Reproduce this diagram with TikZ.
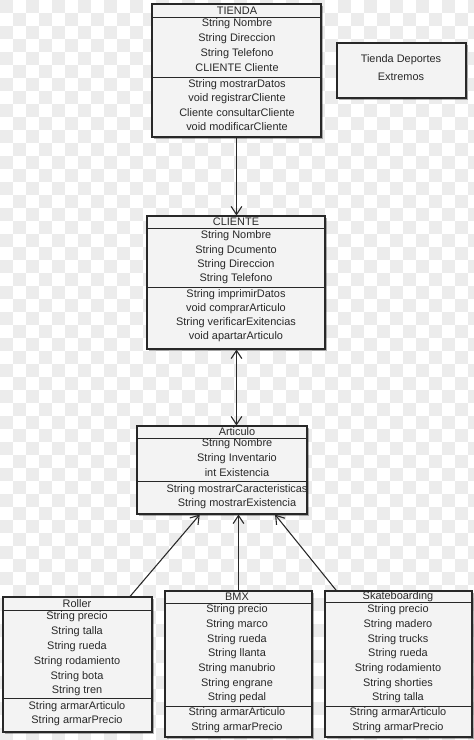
\documentclass[tikz,border=0pt]{standalone}
\usepackage{fontspec}
\setmainfont{Liberation Sans}
\usetikzlibrary{arrows.meta,shadows,fit,calc}
\definecolor{checker}{RGB}{236,236,236}
\definecolor{ink}{RGB}{40,40,40}
\definecolor{boxfill}{RGB}{243,243,243}
\newcommand\clines[5]{\foreach \s [count=\k] in {#5}{\node[txt] (#1\k) at (#2,{#3+(\k-1)*#4}) {\s};}}
\begin{document}
\begin{tikzpicture}[x=0.75pt,y=-0.75pt,
  box/.style={draw=ink, line width=0.9pt, fill=boxfill, inner sep=0pt,
    drop shadow={shadow xshift=1.5pt, shadow yshift=-1.5pt, fill=black, opacity=0.3}},
  sepline/.style={draw=ink, line width=0.9pt},
  txt/.style={font=\fontsize{8.2}{9.5}\selectfont, text=ink, inner sep=0pt, anchor=center},
  arr/.style={draw=ink, line width=0.8pt, -{Straight Barb[length=6pt,width=8pt]}},
  arrb/.style={draw=ink, line width=0.8pt, {Straight Barb[length=6pt,width=8pt]}-{Straight Barb[length=6pt,width=8pt]}}]
\useasboundingbox (0,0) rectangle (474,740);
% checkerboard background
\begin{scope}
\clip (0,0) rectangle (474,740);
\fill[white] (0,0) rectangle (474,740);
\foreach \i in {0,...,36}{
  \foreach \j in {0,2,...,56}{
    \pgfmathtruncatemacro\jj{\j+mod(\i,2)}
    \fill[checker] ({13*\i},{13*\jj}) rectangle +(13,13);
  }
}
\end{scope}

% TIENDA
\node[box, fit={(152,4)(321,137)}] (tienda) {};
\draw[sepline] ($(tienda.north west)+(0,14)$) -- ($(tienda.north east)+(0,14)$);
\draw[sepline] ($(tienda.north west)+(0,74)$) -- ($(tienda.north east)+(0,74)$);
\node[txt] (tiendaT) at (237,11) {TIENDA};
\clines{tiendaA}{237}{24}{14.6}{String Nombre,String Direccion,String Telefono,CLIENTE Cliente}
\clines{tiendaM}{237}{85}{14}{String mostrarDatos,void registrarCliente,Cliente consultarCliente,void modificarCliente}

% Note
\node[box, fit={(337,43)(466,98)}] (nota) {};
\node[txt] (nota1) at (401,60) {Tienda Deportes};
\node[txt] (nota2) at (401,77) {Extremos};

% CLIENTE
\node[box, fit={(147,216)(325,349)}] (cliente) {};
\draw[sepline] ($(cliente.north west)+(0,13)$) -- ($(cliente.north east)+(0,13)$);
\draw[sepline] ($(cliente.north west)+(0,72)$) -- ($(cliente.north east)+(0,72)$);
\node[txt] (clienteT) at (236,222) {CLIENTE};
\clines{clienteA}{236}{236}{14.3}{String Nombre,String Dcumento,String Direccion,String Telefono}
\clines{clienteM}{236}{295}{14}{String imprimirDatos,void comprarArticulo,String verificarExitencias,void apartarArticulo}

% Articulo
\node[box, fit={(137,426)(307,514)}] (articulo) {};
\draw[sepline] ($(articulo.north west)+(0,13)$) -- ($(articulo.north east)+(0,13)$);
\draw[sepline] ($(articulo.north west)+(0,56)$) -- ($(articulo.north east)+(0,56)$);
\node[txt] (articuloT) at (237,432) {Articulo};
\clines{articuloA}{237}{444}{14.5}{String Nombre,String Inventario,int Existencia}
\clines{articuloM}{237}{490}{13.5}{String mostrarCaracteristicas,String mostrarExistencia}

% Roller
\node[box, fit={(3,597)(152,732)}] (roller) {};
\draw[sepline] ($(roller.north west)+(0,14)$) -- ($(roller.north east)+(0,14)$);
\draw[sepline] ($(roller.north west)+(0,102)$) -- ($(roller.north east)+(0,102)$);
\node[txt] (rollerT) at (77,604) {Roller};
\clines{rollerA}{77}{617}{14.8}{String precio,String talla,String rueda,String rodamiento,String bota,String tren}
\clines{rollerM}{77}{707}{14}{String armarArticulo,String armarPrecio}

% BMX
\node[box, fit={(165,591)(312,737)}] (bmx) {};
\draw[sepline] ($(bmx.north west)+(0,13)$) -- ($(bmx.north east)+(0,13)$);
\draw[sepline] ($(bmx.north west)+(0,116)$) -- ($(bmx.north east)+(0,116)$);
\node[txt] (bmxT) at (237,597) {BMX};
\clines{bmxA}{237}{610}{14.67}{String precio,String marco,String rueda,String llanta,String manubrio,String engrane,String pedal}
\clines{bmxM}{237}{713}{14.5}{String armarArticulo,String armarPrecio}

% Skateboarding
\node[box, fit={(325,591)(472,737)}] (skate) {};
\draw[sepline] ($(skate.north west)+(0,12)$) -- ($(skate.north east)+(0,12)$);
\draw[sepline] ($(skate.north west)+(0,116)$) -- ($(skate.north east)+(0,116)$);
\node[txt] (skateT) at (398,597) {Skateboarding};
\clines{skateA}{398}{610}{14.67}{String precio,String madero,String trucks,String rueda,String rodamiento,String shorties,String talla}
\clines{skateM}{398}{713}{14.5}{String armarArticulo,String armarPrecio}

% connectors
\draw[arr] (tienda.south) -- (tienda.south |- cliente.north);
\draw[arrb] (tienda.south |- cliente.south) -- (tienda.south |- articulo.north);
\draw[arr] ($(roller.north west)!0.85!(roller.north east)$) -- ($(articulo.south west)!0.37!(articulo.south east)$);
\draw[arr] (bmx.north) -- (bmx.north |- articulo.south);
\draw[arr] ($(skate.north west)!0.08!(skate.north east)$) -- ($(articulo.south west)!0.81!(articulo.south east)$);
\end{tikzpicture}
\end{document}
